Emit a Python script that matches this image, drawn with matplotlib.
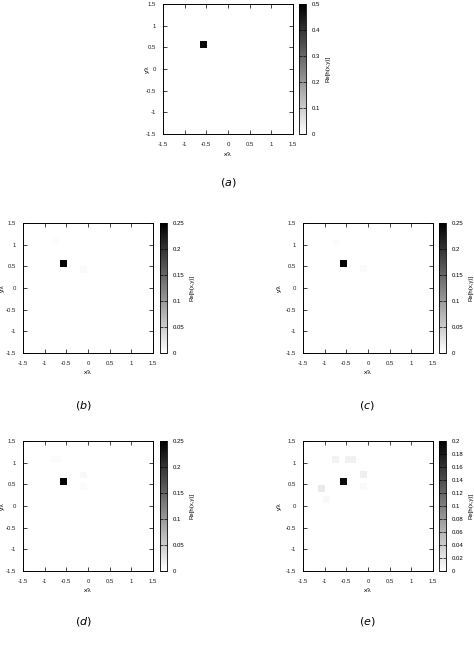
import numpy as np
import matplotlib
matplotlib.use("Agg")
import matplotlib.pyplot as plt

plt.rcParams['font.family'] = ['Liberation Sans', 'DejaVu Sans']

# ---- data: spots (x/λ, y/λ, Re[h]) per panel ----
spots_a = [(-0.58, 0.58, 0.48)]
spots_b = [(-0.58, 0.58, 0.245), (-0.75, 1.07, 0.003), (-0.10, 0.43, 0.005)]
spots_c = [(-0.58, 0.58, 0.245), (-0.74, 1.05, 0.003), (-0.10, 0.45, 0.005)]
spots_d = [(-0.58, 0.58, 0.245), (-0.78, 1.07, 0.004), (-0.70, 1.07, 0.004),
           (-0.10, 0.72, 0.007), (-0.10, 0.45, 0.004)]
spots_e = [(-0.58, 0.58, 0.19), (-0.75, 1.06, 0.010), (-0.45, 1.06, 0.011),
           (-0.36, 1.06, 0.011), (-0.10, 0.73, 0.013), (-1.06, 0.41, 0.017),
           (-0.95, 0.15, 0.005), (-0.10, 0.45, 0.004)]
cb_max = [0.5, 0.25, 0.25, 0.25, 0.2]
cb_ticks = [np.arange(0, 0.51, 0.1), np.arange(0, 0.251, 0.05), np.arange(0, 0.251, 0.05),
            np.arange(0, 0.251, 0.05), np.arange(0, 0.201, 0.02)]
axis_ticks = [-1.5, -1, -0.5, 0, 0.5, 1, 1.5]
panel_labels = ['(a)', '(b)', '(c)', '(d)', '(e)']
cell = 0.16  # spot size in λ

W, H = 474, 646
fig = plt.figure(figsize=(W / 100, H / 100), dpi=100)

# axes placement in pixels: (left, top), colorbar left, label center (x, y), ylabel x (axes coords)
layout = [
    (163, 4, 299, (228, 183), -0.10),
    (23, 223, 160, (83, 405), -0.14),
    (303, 223, 439, (367, 405), -0.16),
    (23, 441, 160, (83, 622), -0.14),
    (303, 441, 439, (367, 622), -0.16),
]
size = 130
cbw = 7

grid = np.linspace(-1.5, 1.5, 241)
X, Y = np.meshgrid(grid, grid)

def fmt(v):
    s = ('%.2f' % v).rstrip('0').rstrip('.')
    return '0' if s in ('-0', '') else s

all_spots = [spots_a, spots_b, spots_c, spots_d, spots_e]
for i, (spots, (lx, ty, cbx, (labx, laby), ylx)) in enumerate(zip(all_spots, layout)):
    ax = fig.add_axes([lx / W, 1 - (ty + size) / H, size / W, size / H])
    Z = np.zeros_like(X)
    for (sx, sy, v) in spots:
        m = (np.abs(X - sx) <= cell / 2) & (np.abs(Y - sy) <= cell / 2)
        Z[m] = v
    mesh = ax.pcolormesh(X, Y, Z, cmap='gray_r', vmin=0, vmax=cb_max[i],
                         shading='nearest', rasterized=True)
    ax.set_xlim(-1.5, 1.5)
    ax.set_ylim(-1.5, 1.5)
    ax.set_xticks(axis_ticks)
    ax.set_yticks(axis_ticks)
    ax.set_xticklabels([fmt(t) for t in axis_ticks])
    ax.set_yticklabels([fmt(t) for t in axis_ticks])
    ax.tick_params(direction='in', top=True, right=True, length=3, width=0.6,
                   labelsize=4.3, colors='#222222')
    ax.tick_params(axis='x', pad=6)
    ax.tick_params(axis='y', pad=5)
    for sp in ax.spines.values():
        sp.set_linewidth(0.7)
    ax.set_xlabel('x/λ', fontsize=4.3, labelpad=3)
    ax.set_ylabel('y/λ', fontsize=4.3)
    ax.yaxis.set_label_coords(ylx, 0.5)

    cax = fig.add_axes([cbx / W, 1 - (ty + size) / H, cbw / W, size / H])
    cb = fig.colorbar(mesh, cax=cax, ticks=cb_ticks[i])
    cb.ax.set_yticklabels([fmt(t) for t in cb_ticks[i]])
    cb.ax.tick_params(direction='in', left=True, right=True, length=2.5, width=0.5,
                      labelsize=4.3, pad=4)
    cb.outline.set_linewidth(0.6)
    cb.set_label('Re[h(x,y)]', fontsize=4.3, labelpad=4)

    fig.text(labx / W, 1 - laby / H, '$%s$' % panel_labels[i], fontsize=8,
             ha='center', va='center')

fig.savefig('out.png', dpi=100)
